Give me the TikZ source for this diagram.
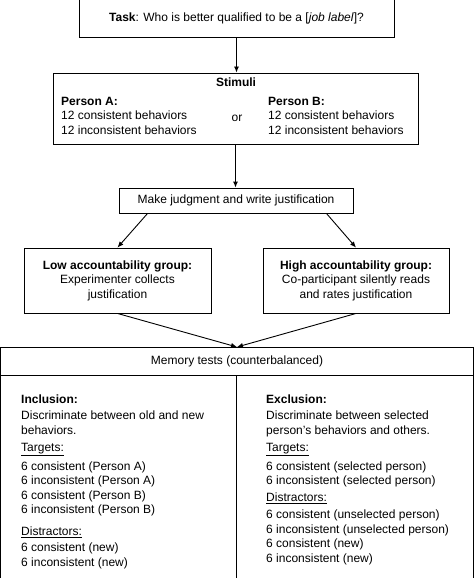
\documentclass[tikz,border=0pt]{standalone}
\usepackage{fontspec}
\setmainfont{Liberation Sans}
\usetikzlibrary{arrows.meta}
\usetikzlibrary{positioning}
\tikzset{box node/.style={rectangle,draw,line width=0.9pt,inner sep=0pt}}
\tikzset{txt node/.style={inner sep=0pt,align=left}}

\begin{document}
\begin{tikzpicture}[x=1pt,y=-1pt,>={Latex[length=6pt,width=5pt]},font=\fontsize{12}{14.5}\selectfont]
    \useasboundingbox (0,0) rectangle (474,578);

    % boxes of the flow
    \node[box node,minimum width=315,minimum height=38] (task) at (236.5,18) {\textbf{Task}: Who is better qualified to be a [\textit{job label}]?};
    \node[box node,minimum width=365,minimum height=71] (stimuli) at (235.5,108.5) {};
    \node[txt node] (stim_title) at (236,82) {\textbf{Stimuli}};
    \node[txt node,anchor=west] (person_a) at (61,115.5) {\textbf{Person A:}\\12 consistent behaviors\\12 inconsistent behaviors};
    \node[txt node] (or) at (237,118) {or};
    \node[txt node,anchor=west] (person_b) at (268,115.5) {\textbf{Person B:}\\12 consistent behaviors\\12 inconsistent behaviors};
    \node[box node,minimum width=234,minimum height=25] (judge) at (236,200.5) {Make judgment and write justification};
    \node[box node,minimum width=187,minimum height=65,align=center] (low) at (117.5,280.5) {\textbf{Low accountability group:}\\Experimenter collects\\justification};
    \node[box node,minimum width=186,minimum height=65,align=center] (high) at (356,280.5) {\textbf{High accountability group:}\\Co-participant silently reads\\and rates justification};

    % memory tests
    \node[box node,minimum width=473,minimum height=250,anchor=north] (memory) at (237,347) {};
    \node[txt node] (mem_title) at (237,361) {Memory tests (counterbalanced)};
    \coordinate (split) at (236,375);
    \draw[line width=0.9pt] (memory.west |- split) -- (memory.east |- split);
    \draw[line width=0.9pt] (split) -- (split |- memory.south);

    \node[txt node,anchor=north west] (inclusion) at (21,395) {\textbf{Inclusion:}\\[1.5pt]
        Discriminate between old and new\\
        behaviors.\\[2.5pt]
        \underline{Targets:}\\[4.5pt]
        6 consistent (Person A)\\
        6 inconsistent (Person A)\\
        6 consistent (Person B)\\
        6 inconsistent (Person B)\\[7.5pt]
        \underline{Distractors:}\\[1.5pt]
        6 consistent (new)\\
        6 inconsistent (new)};
    \node[txt node,anchor=north west] (exclusion) at (266,395) {\textbf{Exclusion:}\\[1.5pt]
        Discriminate between selected\\
        person's behaviors and others.\\[2.5pt]
        \underline{Targets:}\\[4.5pt]
        6 consistent (selected person)\\
        6 inconsistent (selected person)\\[2.5pt]
        \underline{Distractors:}\\[2.5pt]
        6 consistent (unselected person)\\
        6 inconsistent (unselected person)\\
        6 consistent (new)\\
        6 inconsistent (new)};

    % arrows
    \path [->,line width=0.9pt]
    (task.south) edge (task.south |- stimuli.north)
    (stimuli.south) edge (stimuli.south |- judge.north)
    ([xshift=29]judge.south west) edge (low.north)
    ([xshift=-27]judge.south east) edge (high.north)
    (low.south) edge (memory.north)
    (high.south) edge (memory.north);

\end{tikzpicture}
\end{document}
